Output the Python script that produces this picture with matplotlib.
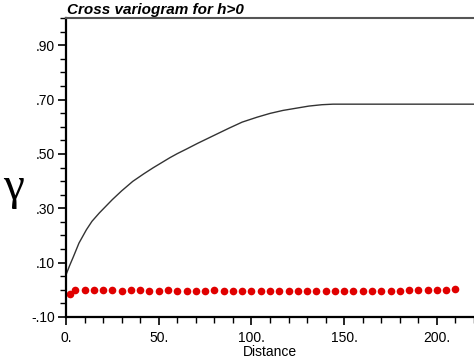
import matplotlib
matplotlib.use('Agg')
from matplotlib import pyplot as plt
from matplotlib.ticker import MultipleLocator, FuncFormatter

# model curve
curve_x = [0, 2, 4, 7, 11, 14, 18, 25, 30, 36, 42, 47, 56, 60, 65, 71, 81, 88, 95,
           103, 110, 117, 124, 131, 138, 144, 220]
curve_y = [0.055, 0.09, 0.122, 0.172, 0.221, 0.252, 0.283, 0.332, 0.364, 0.399, 0.427,
           0.449, 0.486, 0.501, 0.518, 0.539, 0.572, 0.595, 0.617, 0.635, 0.649, 0.660,
           0.668, 0.676, 0.681, 0.683, 0.683]

# experimental cross variogram points
lag = [2] + list(range(5, 215, 5))
gamma = [-0.015, 0.000, 0.001, 0.001, 0.001, -0.002, -0.004, -0.002, -0.002, -0.003,
         -0.004, -0.002, -0.003, -0.004, -0.004, -0.003, -0.001, -0.005, -0.003, -0.004,
         -0.004, -0.005, -0.003, -0.003, -0.003, -0.004, -0.003, -0.003, -0.003, -0.004,
         -0.003, -0.004, -0.004, -0.004, -0.005, -0.003, -0.003, -0.002, -0.002, -0.002,
         -0.002, 0.001, 0.002]

plt.rcParams['font.family'] = ['Liberation Sans', 'DejaVu Sans']

fig = plt.figure(figsize=(4.74, 3.59), dpi=100)
ax = fig.add_axes([66 / 474, 1 - 317 / 359, 1 - 66 / 474, (317 - 18) / 359])

ax.plot(curve_x, curve_y, color='#333333', lw=1.0)
ax.plot(lag, gamma, 'o', color='#e00000', markersize=5.5, markeredgewidth=0, clip_on=False)

ax.set_xlim(0, 220)
ax.set_ylim(-0.10, 1.0)

ax.xaxis.set_major_locator(MultipleLocator(50))
ax.xaxis.set_minor_locator(MultipleLocator(10))
ax.yaxis.set_major_locator(MultipleLocator(0.2, offset=0.1))
ax.yaxis.set_minor_locator(MultipleLocator(0.05))

ax.xaxis.set_major_formatter(FuncFormatter(lambda v, p: '%d.' % round(v)))


def yfmt(v, p):
    s = '%.2f' % v
    return s.replace('0.', '.', 1)


ax.yaxis.set_major_formatter(FuncFormatter(yfmt))

ax.tick_params(axis='both', which='major', direction='out', length=6, width=1.2,
               labelsize=10, colors='black')
ax.tick_params(axis='both', which='minor', direction='out', length=4, width=1.0)
ax.tick_params(axis='x', pad=4)
ax.tick_params(axis='y', pad=2)

ax.spines['right'].set_visible(False)
ax.spines['top'].set_color('#555555')
ax.spines['top'].set_linewidth(1.5)
ax.spines['left'].set_linewidth(1.6)
ax.spines['bottom'].set_linewidth(1.6)

fig.text(67 / 474, 1 - 14 / 359, 'Cross variogram for h>0', fontsize=11,
         fontweight='bold', fontstyle='italic', ha='left', va='baseline')
fig.text(14 / 474, 1 - 188 / 359, 'γ', fontsize=34, ha='center', va='center',
         family=['Liberation Serif', 'DejaVu Serif'])
fig.text(270 / 474, 1 - 356 / 359, 'Distance', fontsize=10, ha='center', va='baseline')

plt.savefig('out.png', dpi=100)
